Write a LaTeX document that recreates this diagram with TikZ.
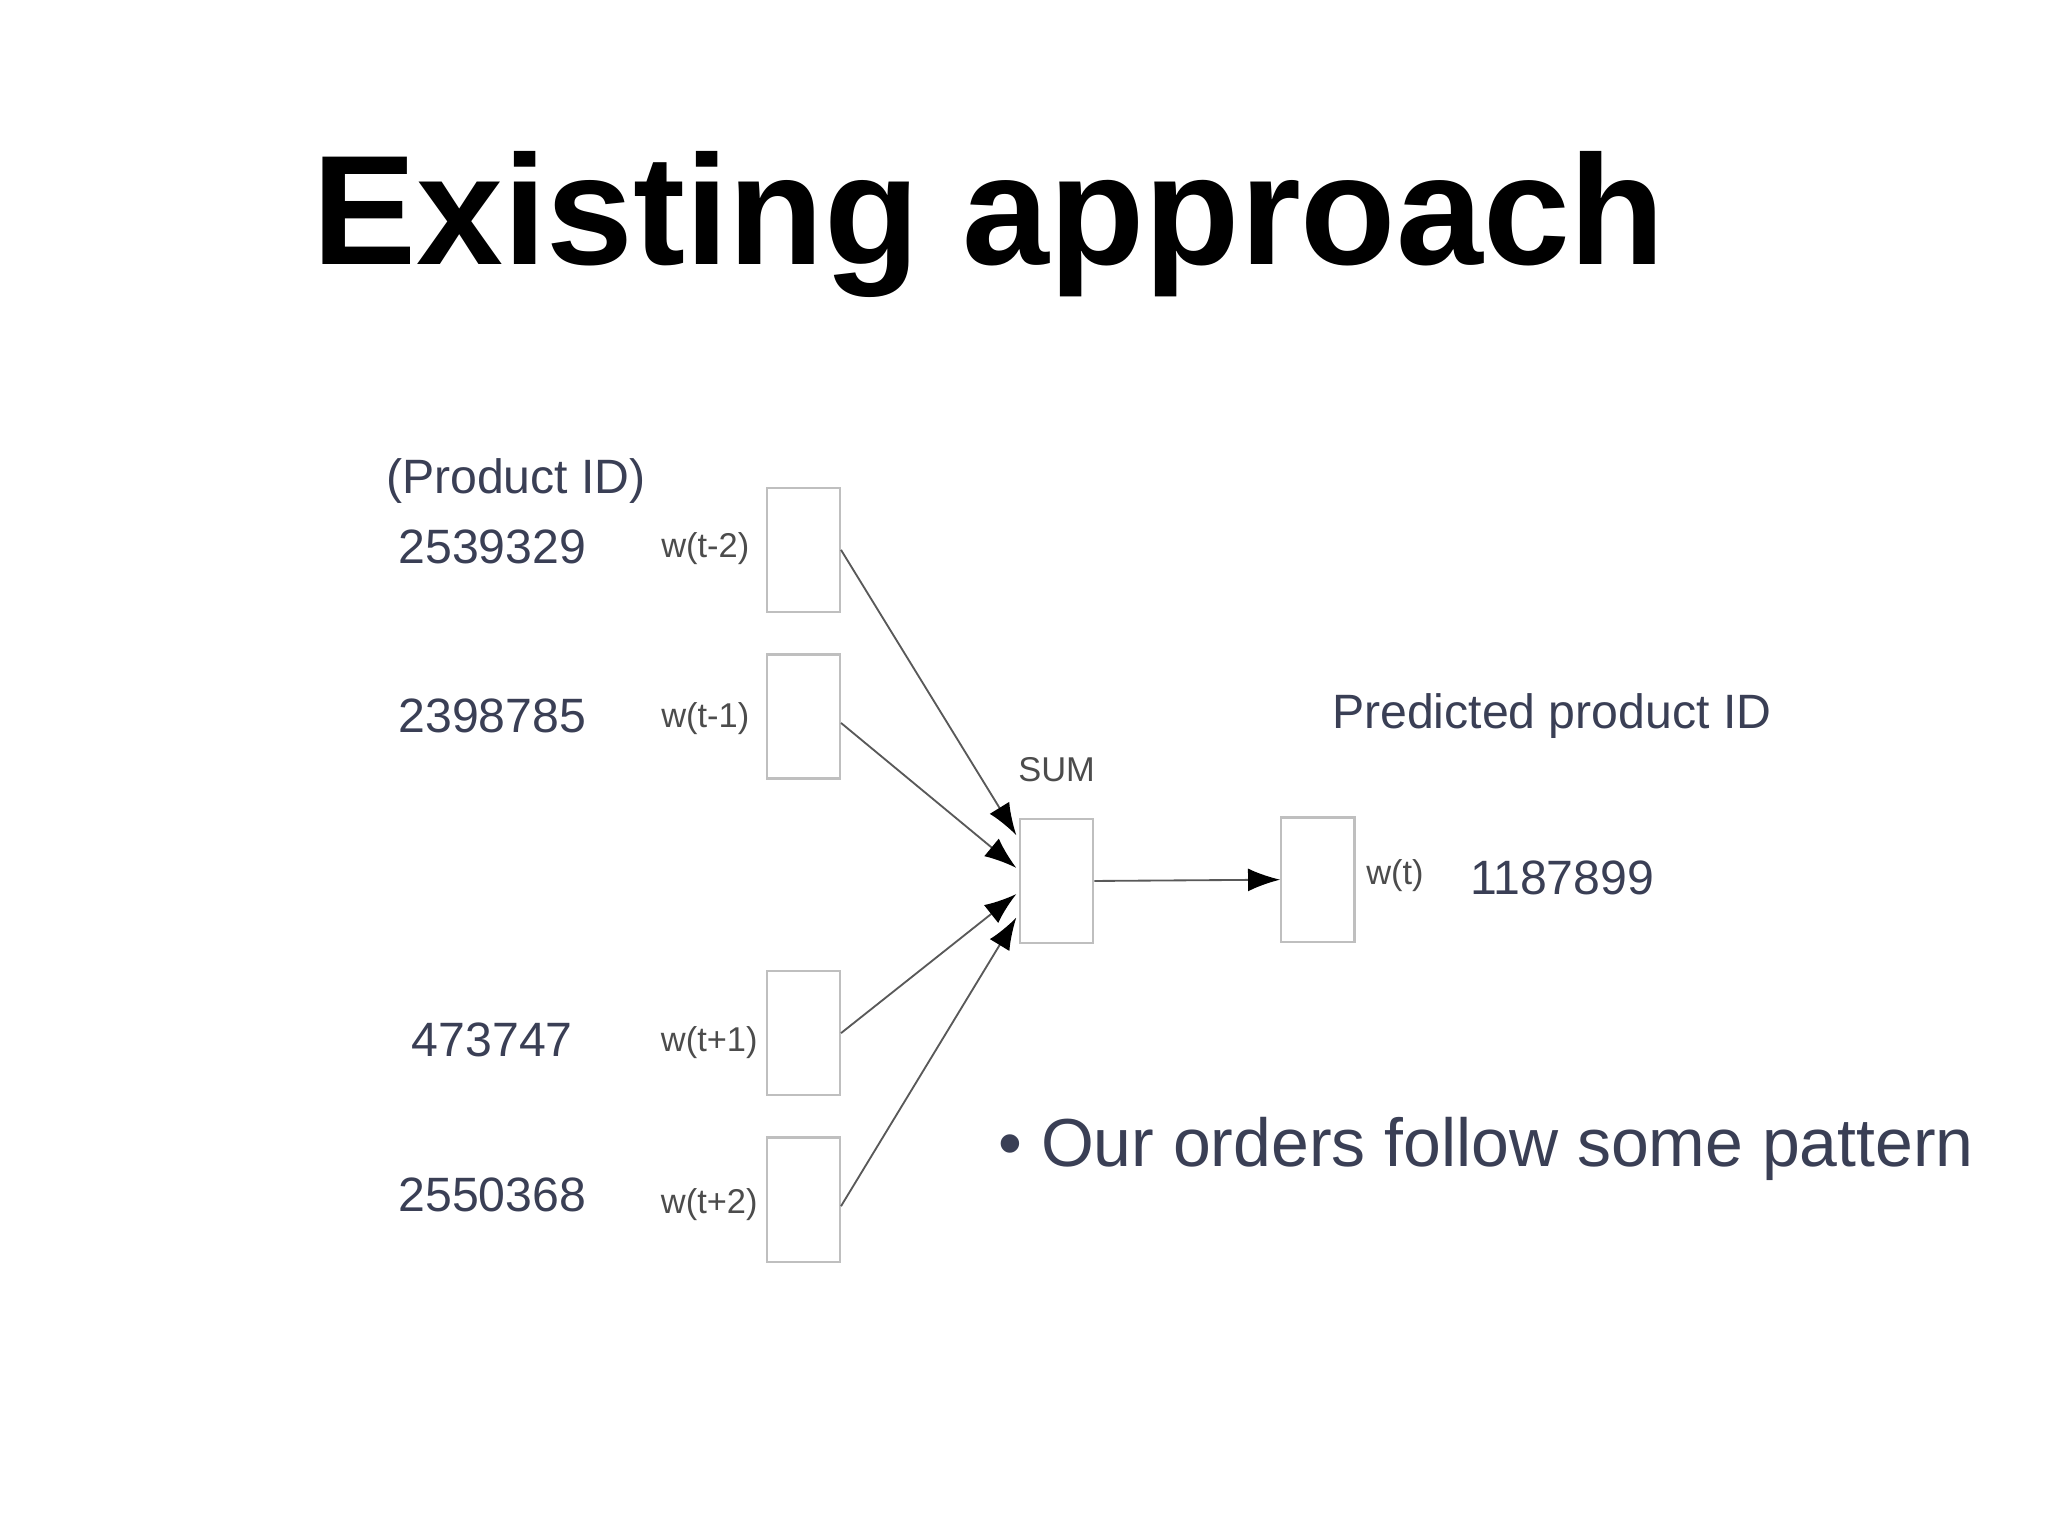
\documentclass[tikz,border=0pt]{standalone}
\usepackage{fontspec}
\setmainfont{Liberation Sans}
\usetikzlibrary{arrows.meta,calc}
\definecolor{txt}{HTML}{3A3F55}
\tikzset{
  wbox/.style={draw=black!25,line width=0.5pt,minimum width=0.56cm,minimum height=0.95cm,inner sep=0},
  wlab/.style={text=black!70,font=\fontsize{7.5}{9}\selectfont},
  num/.style={text=txt,font=\fontsize{10.5}{12}\selectfont},
  conn/.style={draw=black!65,line width=0.4pt,-{Latex[length=7pt,width=5pt,fill=black,color=black]}}
}
\begin{document}
\begin{tikzpicture}[x=1cm,y=1cm]
\useasboundingbox[fill=white] (0,0) rectangle (15.68,-11.76);
\node[font=\bfseries\fontsize{34}{40}\selectfont] (title) at (7.57,-1.72) {Existing approach};
\node[wbox] (b1) at (6.15,-4.21) {};
\node[wbox] (b2) at (6.15,-5.485) {};
\node[wbox] (b3) at (6.15,-7.91) {};
\node[wbox] (b4) at (6.15,-9.185) {};
\node[wbox] (sum) at (8.09,-6.745) {};
\node[wbox] (out) at (10.09,-6.735) {};
\node[num] (pid) at (3.95,-3.68) {(Product ID)};
\node[num] (n1) at (3.77,-4.19) {2539329};
\node[num] (n2) at (3.77,-5.48) {2398785};
\node[num] (n3) at (3.77,-7.96) {473747};
\node[num] (n4) at (3.77,-9.15) {2550368};
\node[wlab] (l1) at (5.40,-4.20) {w(t-2)};
\node[wlab] (l2) at (5.40,-5.50) {w(t-1)};
\node[wlab] (l3) at (5.43,-7.98) {w(t+1)};
\node[wlab] (l4) at (5.43,-9.22) {w(t+2)};
\node[wlab] (ls) at (8.09,-5.89) {SUM};
\node[wlab] (lt) at (10.68,-6.70) {w(t)};
\node[num] (pred) at (11.88,-5.48) {Predicted product ID};
\node[num] (res) at (11.96,-6.72) {1187899};
\node[text=txt,font=\fontsize{14.8}{18}\selectfont,anchor=west] (bul) at (7.52,-8.80) {\textbullet\ Our orders follow some pattern};
\draw[conn] ($(b1.east)+(0,0)$) -- ($(sum.west)+(-0.02,0.35)$);
\draw[conn] ($(b2.east)+(0,-0.05)$) -- ($(sum.west)+(-0.02,0.10)$);
\draw[conn] ($(b3.east)+(0,0)$) -- ($(sum.west)+(-0.02,-0.10)$);
\draw[conn] ($(b4.east)+(0,-0.05)$) -- ($(sum.west)+(-0.02,-0.28)$);
\draw[conn] (sum.east) -- (out.west);
\end{tikzpicture}
\end{document}
